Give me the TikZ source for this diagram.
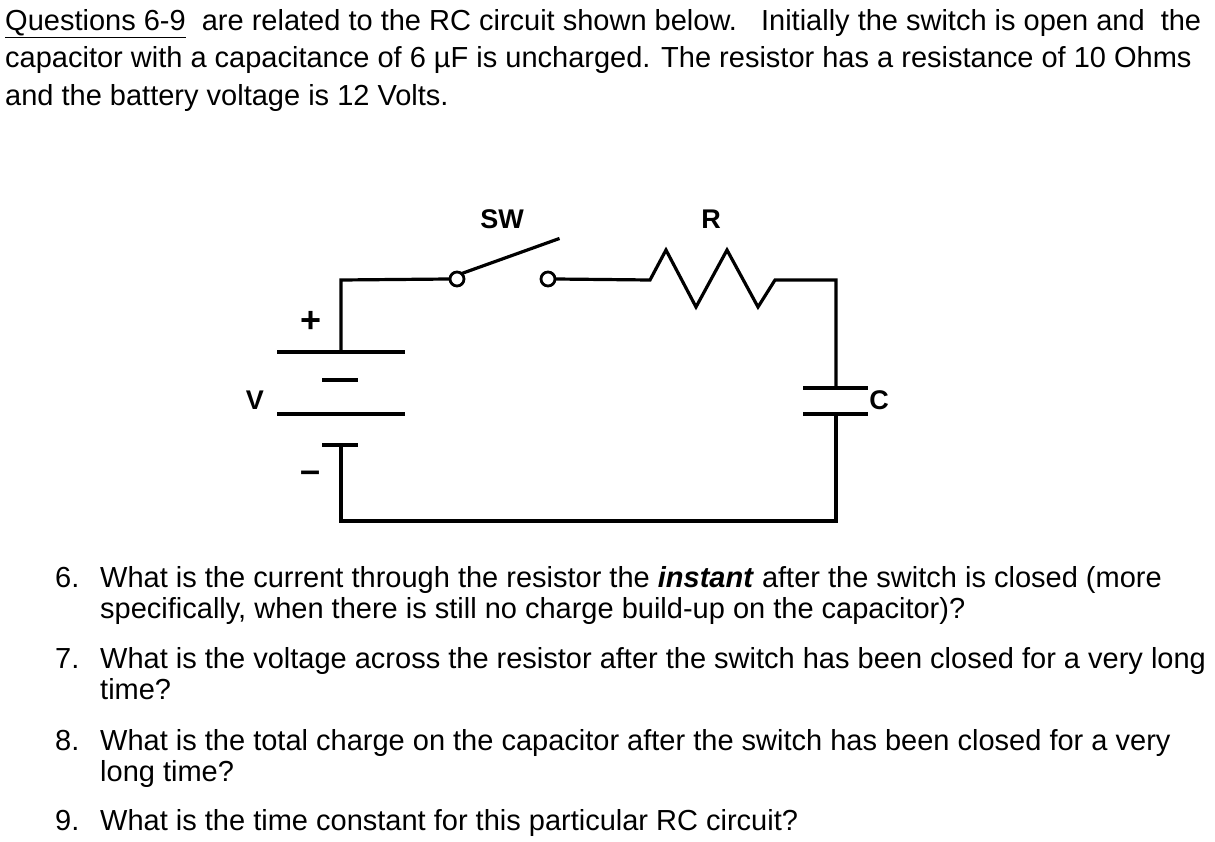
\documentclass[tikz,border=0pt]{standalone}
\usepackage{fontspec}
\setmainfont{Liberation Sans}
\begin{document}
\begin{tikzpicture}[x=1pt,y=-1pt,
  w/.style={line width=3.2pt,line cap=rect},
  t/.style={anchor=base west,inner sep=0pt,font=\fontsize{29}{34}\selectfont},
  lab/.style={inner sep=0pt,font=\fontsize{27}{30}\selectfont\bfseries},
  term/.style={circle,draw,line width=2.8pt,minimum size=14pt,inner sep=0pt,fill=white}]
\useasboundingbox (0,0) rectangle (1215,841);
% text
\node[t] (l1) at (5,30) {\underline{Questions 6-9}\ \ are related to the RC circuit shown below.\ \ \ Initially the switch is open and\ \ the};
\node[t] (l2) at (5,67) {capacitor with a capacitance of 6 µF is uncharged. The resistor has a resistance of 10 Ohms};
\node[t] (l3) at (5,105) {and the battery voltage is 12 Volts.};
\node[t] (n6) at (55,587) {6.};
\node[t] (q6a) at (100,587) {What is the current through the resistor the \textbf{\textit{instant}} after the switch is closed (more};
\node[t] (q6b) at (100,618) {specifically, when there is still no charge build-up on the capacitor)?};
\node[t] (n7) at (55,668) {7.};
\node[t] (q7a) at (100,668) {What is the voltage across the resistor after the switch has been closed for a very long};
\node[t] (q7b) at (100,699) {time?};
\node[t] (n8) at (55,750) {8.};
\node[t] (q8a) at (100,750) {What is the total charge on the capacitor after the switch has been closed for a very};
\node[t] (q8b) at (100,781) {long time?};
\node[t] (n9) at (55,830) {9.};
\node[t] (q9) at (100,830) {What is the time constant for this particular RC circuit?};
% circuit
\coordinate (bt) at (341,352);
\coordinate (tl) at (341,280);
\node[term] (s1) at (457,279) {};
\node[term] (s2) at (548,279) {};
\coordinate (arm) at (558,239);
\coordinate (r0) at (650,280);
\coordinate (r1) at (775,280);
\coordinate (tr) at (836,280);
\coordinate (c1) at (836,388);
\coordinate (c2) at (836,414);
\coordinate (br) at (836,521);
\coordinate (bl) at (341,521);
\coordinate (bb) at (341,445);
\draw[w] (bt) -- (tl) -- (s1.west);
\draw[w] (s1.north east) -- (arm);
\draw[w,line join=miter] (s2.east) -- (r0) -- (666,250) -- (696,307) -- (727,250) -- (758,307) -- (r1) -- (tr) -- (c1);
\draw[w] (c2) -- (br) -- (bl) -- (bb);
% battery
\draw[w] (279,352) -- (403,352);
\draw[w] (324,380) -- (356,380);
\draw[w] (279,414) -- (403,414);
\draw[w] (324,445) -- (356,445);
% capacitor
\draw[w] (805,388) -- (866,388);
\draw[w] (805,414) -- (866,414);
\node[lab] (sw) at (502,219) {SW};
\node[lab] (rl) at (711,219) {R};
\node[lab] (cl) at (879,400) {C};
\node[lab] (vl) at (255,400) {V};
\node[lab,font=\fontsize{36}{38}\selectfont\bfseries] (pl) at (311,322) {+};
\node[lab,font=\fontsize{36}{38}\selectfont\bfseries] (mi) at (311,477) {--};
\end{tikzpicture}
\end{document}
